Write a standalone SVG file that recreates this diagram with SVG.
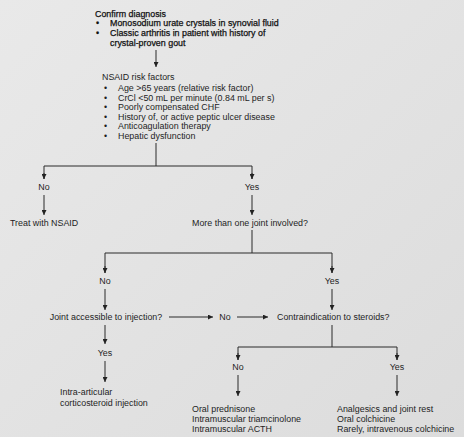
<svg xmlns="http://www.w3.org/2000/svg" width="464" height="437" viewBox="0 0 464 437">
<defs>
<linearGradient id="bg" x1="0" y1="0" x2="1" y2="1">
<stop offset="0" stop-color="#e9e9e9"/>
<stop offset="1" stop-color="#dcdcdc"/>
</linearGradient>
<marker id="ah" viewBox="0 0 10 10" refX="10" refY="5" markerWidth="5" markerHeight="5" markerUnits="userSpaceOnUse" orient="auto">
<path d="M0,0 L10,5 L0,10 Z" fill="#222"/>
</marker>
<style>
text{font-family:"Liberation Sans",Arial,sans-serif;font-size:8.9px;fill:#1e1e1e}
.top{fill:#111;stroke:#111;stroke-width:0.25}
.m{text-anchor:middle}
.c line,.c polyline{stroke:#2a2a2a;stroke-width:1;fill:none}
</style>
</defs>
<rect width="464" height="437" fill="url(#bg)"/>

<g id="confirm">
<text class="top" x="95" y="16.5">Confirm diagnosis</text>
<text class="top" x="96" y="26">•</text><text class="top" x="110" y="26">Monosodium urate crystals in synovial fluid</text>
<text class="top" x="96" y="35.5">•</text><text class="top" x="110" y="35.5">Classic arthritis in patient with history of</text>
<text class="top" x="110" y="45.5">crystal-proven gout</text>
</g>

<g id="risk">
<text x="102" y="80">NSAID risk factors</text>
<text x="104" y="91">•</text><text x="118" y="91">Age &gt;65 years (relative risk factor)</text>
<text x="104" y="100.5">•</text><text x="118" y="100.5">CrCl &lt;50 mL per minute (0.84 mL per s)</text>
<text x="104" y="110">•</text><text x="118" y="110">Poorly compensated CHF</text>
<text x="104" y="119.5">•</text><text x="118" y="119.5">History of, or active peptic ulcer disease</text>
<text x="104" y="129">•</text><text x="118" y="129">Anticoagulation therapy</text>
<text x="104" y="138.5">•</text><text x="118" y="138.5">Hepatic dysfunction</text>
</g>

<g id="no1"><text class="m" x="44" y="190">No</text></g>
<g id="yes1"><text class="m" x="252" y="190">Yes</text></g>
<g id="treat"><text x="10" y="226">Treat with NSAID</text></g>
<g id="more"><text class="m" x="250" y="226">More than one joint involved?</text></g>
<g id="no2"><text class="m" x="105" y="284">No</text></g>
<g id="yes2"><text class="m" x="332" y="284">Yes</text></g>
<g id="accessible"><text class="m" x="106" y="320">Joint accessible to injection?</text></g>
<g id="no3"><text class="m" x="225" y="320">No</text></g>
<g id="contra"><text x="277" y="320">Contraindication to steroids?</text></g>
<g id="yes3"><text class="m" x="105" y="356">Yes</text></g>
<g id="intra">
<text x="60" y="395">Intra-articular</text>
<text x="60" y="406">corticosteroid injection</text>
</g>
<g id="no4"><text class="m" x="238" y="370">No</text></g>
<g id="yes4"><text class="m" x="397" y="370">Yes</text></g>
<g id="oral">
<text x="192" y="412">Oral prednisone</text>
<text x="192" y="422">Intramuscular triamcinolone</text>
<text x="192" y="432">Intramuscular ACTH</text>
</g>
<g id="analgesics">
<text x="337" y="412">Analgesics and joint rest</text>
<text x="337" y="422">Oral colchicine</text>
<text x="337" y="432">Rarely, intravenous colchicine</text>
</g>

<g class="c" id="connectors">
<line x1="156" y1="50" x2="156" y2="67" marker-end="url(#ah)"/>
<line x1="156" y1="143" x2="156" y2="166"/>
<polyline points="44,179 44,166 252,166 252,179"/>
<line x1="44" y1="173" x2="44" y2="179" marker-end="url(#ah)"/>
<line x1="252" y1="173" x2="252" y2="179" marker-end="url(#ah)"/>
<line x1="44" y1="195" x2="44" y2="215" marker-end="url(#ah)"/>
<line x1="252" y1="195" x2="252" y2="215" marker-end="url(#ah)"/>
<line x1="252" y1="230" x2="252" y2="253"/>
<polyline points="105,273 105,253 332,253 332,273"/>
<line x1="105" y1="266" x2="105" y2="273" marker-end="url(#ah)"/>
<line x1="332" y1="266" x2="332" y2="273" marker-end="url(#ah)"/>
<line x1="105" y1="289" x2="105" y2="310" marker-end="url(#ah)"/>
<line x1="332" y1="289" x2="332" y2="310" marker-end="url(#ah)"/>
<line x1="169" y1="317" x2="213" y2="317" marker-end="url(#ah)"/>
<line x1="237" y1="317" x2="268" y2="317" marker-end="url(#ah)"/>
<line x1="105" y1="325" x2="105" y2="344" marker-end="url(#ah)"/>
<line x1="105" y1="361" x2="105" y2="382" marker-end="url(#ah)"/>
<line x1="332" y1="325" x2="332" y2="347"/>
<polyline points="238,360 238,347 397,347 397,360"/>
<line x1="238" y1="353" x2="238" y2="360" marker-end="url(#ah)"/>
<line x1="397" y1="353" x2="397" y2="360" marker-end="url(#ah)"/>
<line x1="238" y1="375" x2="238" y2="396" marker-end="url(#ah)"/>
<line x1="397" y1="375" x2="397" y2="396" marker-end="url(#ah)"/>
</g>
</svg>
